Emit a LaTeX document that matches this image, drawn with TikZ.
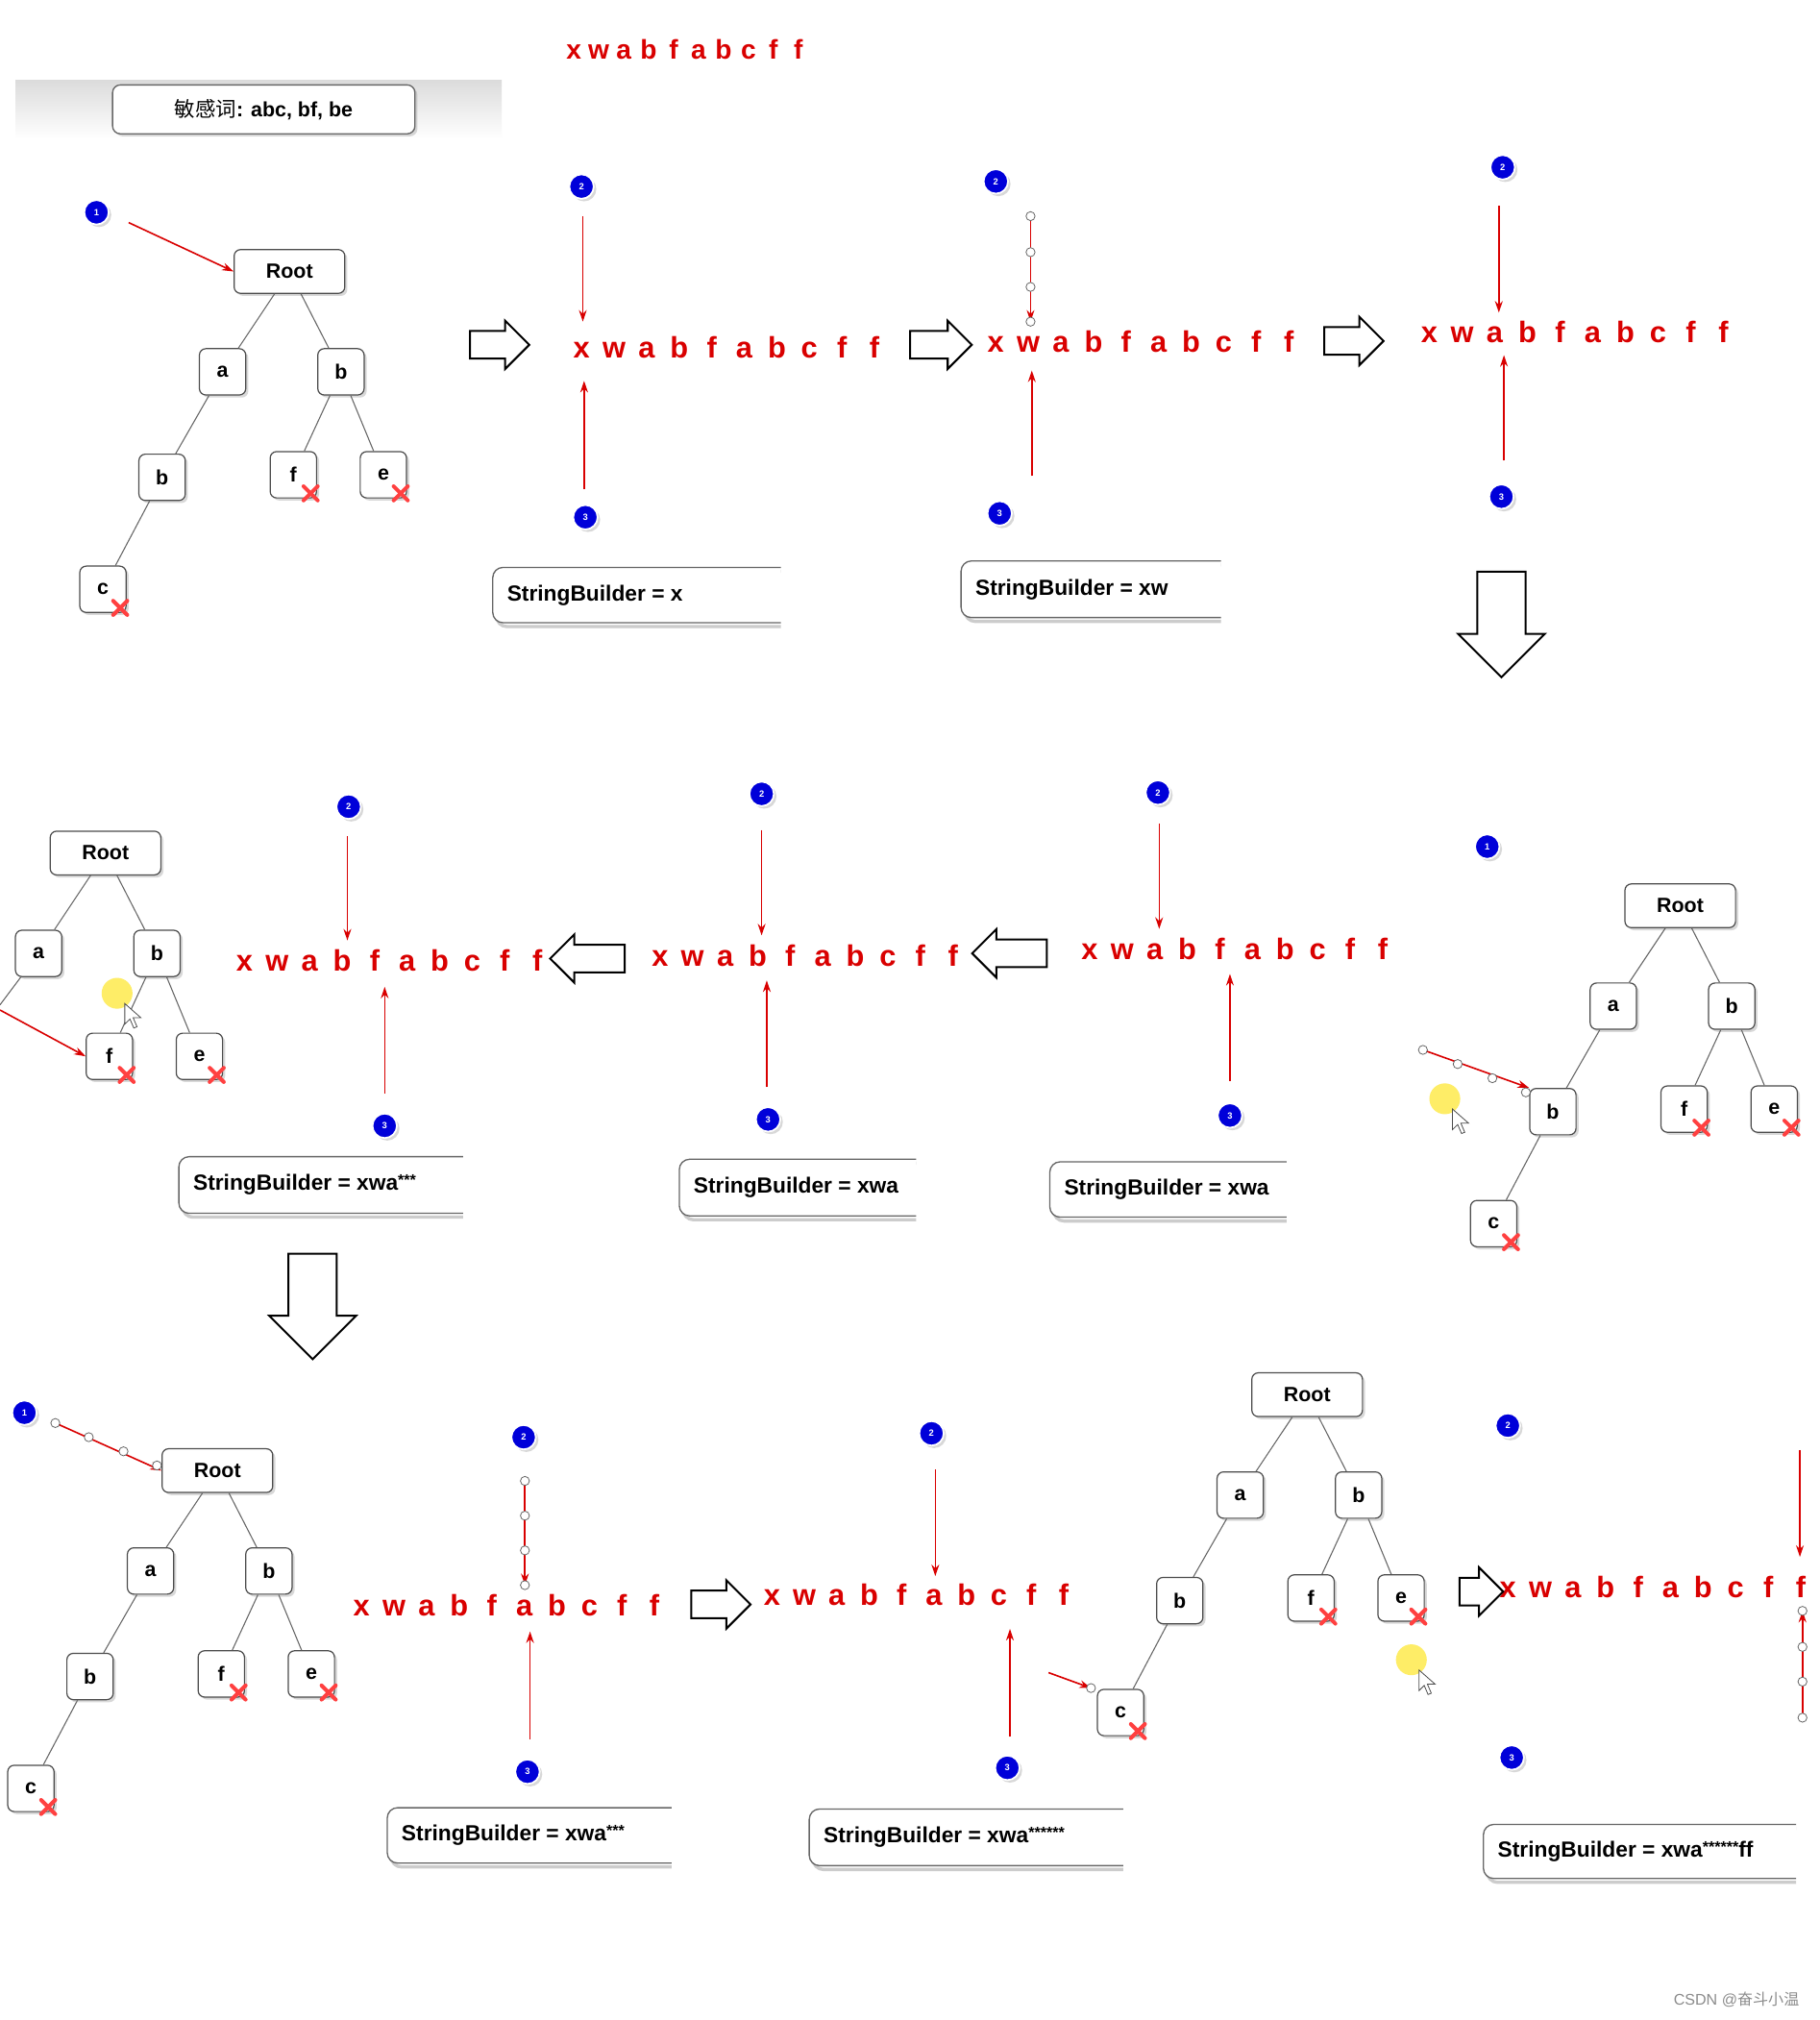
\documentclass[tikz,border=0pt]{standalone}
\usepackage{fontspec}
\setmainfont{Liberation Sans}
\newfontfamily\cjk{Noto Sans CJK SC}
\usetikzlibrary{shapes.arrows,shadows,arrows.meta}
\begin{document}
\begin{tikzpicture}[x=1pt,y=-1pt,
 shd/.style={drop shadow={shadow xshift=2pt,shadow yshift=-2pt,opacity=0.3}},
 tn/.style={draw=black!70,line width=0.9pt,rounded corners=5pt,fill=white,minimum width=36,minimum height=36,inner sep=0,font=\bfseries\fontsize{16}{16}\selectfont,shd},
 root/.style={tn,minimum width=86,minimum height=34},
 edge/.style={draw=black!60,line width=0.8pt},
 num/.style={circle,fill=blue!85!black,draw=white,line width=1.3pt,minimum size=19,inner sep=0,font=\bfseries\fontsize{7}{7}\selectfont,text=white,shd},
 ltr/.style={text=red!85!black,font=\bfseries\fontsize{23}{23}\selectfont,inner sep=0,anchor=base},
 ptr/.style={red!85!black,line width=1.2pt,-{Stealth[length=9pt,width=6pt]}},
 dotc/.style={circle,draw=black!60,fill=white,minimum size=7,inner sep=0,line width=0.6pt},
 blk/.style={single arrow,draw=black,line width=1.5pt,fill=white,inner sep=10pt,single arrow head extend=8pt,single arrow head indent=0pt,minimum height=46},
 blkd/.style={blk,inner sep=18pt,single arrow head extend=15pt,minimum height=82,shape border rotate=270},
 xm/.pic={\draw[red!75,line width=3pt,line cap=round] (-5.5,-5.5)--(5.5,5.5) (-5.5,5.5)--(5.5,-5.5);}
]
\useasboundingbox (0,0) rectangle (1414,1570);
\fill[white] (0,0) rectangle (1414,1570);

\newcommand\trie[3]{%
 \begin{scope}[shift={(#2,#3)}]
 \node[root] (#1r) at (0,0) {Root};
 \node[tn] (#1a) at (-52,78) {a};
 \node[tn] (#1b) at (40,78) {b};
 \node[tn] (#1bb) at (-99,160) {b};
 \node[tn] (#1f) at (3,158) {f};
 \node[tn] (#1e) at (73,158) {e};
 \node[tn] (#1c) at (-145,247) {c};
 \end{scope}
 \draw[edge] (#1r) -- (#1a); \draw[edge] (#1r) -- (#1b);
 \draw[edge] (#1a) -- (#1bb); \draw[edge] (#1bb) -- (#1c);
 \draw[edge] (#1b) -- (#1f); \draw[edge] (#1b) -- (#1e);
 \pic at ([shift={(-5,-4)}]#1c.south east) {xm};
 \pic at ([shift={(-5,-4)}]#1f.south east) {xm};
 \pic at ([shift={(-5,-4)}]#1e.south east) {xm};
}
\newcommand\row[4]{%
 \foreach \l [count=\i from 0] in {x,w,a,b,f,a,b,c,f,f}
  \node[ltr] (#1\i) at (#2+\i*#4,#3+8) {\l};}
\newcommand\sbld[6]{%
 \draw[black!20,line width=2.5pt,rounded corners=8pt] (#4,#3+3)--(#2+3,#3+3)--(#2+3,#5+3)--(#4,#5+3);
 \draw[black!60,line width=1pt,rounded corners=8pt,fill=white] (#4,#3)--(#2,#3)--(#2,#5)--(#4,#5);
 \node[anchor=west,font=\bfseries\fontsize{17}{17}\selectfont,inner sep=0] (#1) at (#2+11,{(#3+#5)/2}) {StringBuilder = #6};}
\newcommand\stars[1]{\raisebox{0.45ex}{\fontsize{12}{12}\selectfont #1}}
\newcommand\cursor[2]{%
 \fill[yellow!85!orange,opacity=0.6] (#1-6,#2-8) circle (12);
 \draw[black!70,fill=white,line width=0.6pt] (#1,#2) -- ++(0,16) -- ++(4,-4) -- ++(3,7) -- ++(2.5,-1) -- ++(-3,-7) -- ++(6,0) -- cycle;}

% header
\shade[top color=black!14,bottom color=white] (12,62) rectangle (390,108);
\node[draw=black!60,line width=1pt,rounded corners=6pt,fill=white,minimum width=235,minimum height=38,shd,font=\bfseries\fontsize{16}{16}\selectfont] (hdr) at (205,85) {{\cjk\mdseries 敏感词}: abc, bf, be};
\foreach \l [count=\i from 0] in {x,w,a,b,f,a,b,c,f,f}
  \node[ltr,font=\bfseries\fontsize{21}{21}\selectfont] (t\i) at (446+\i*19.4,46) {\l};

% trees
\trie{A}{225}{211}
\node[num] (n1a) at (75,165) {1};
\draw[ptr] (100,173) -- (Ar.west);
% tree B: left part cut by the picture edge
\begin{scope}[shift={(82,663)}]
 \node[root] (Br) at (0,0) {Root};
 \node[tn] (Ba) at (-52,78) {a};
 \node[tn] (Bb) at (40,78) {b};
 \node[tn] (Bf) at (3,158) {f};
 \node[tn] (Be) at (73,158) {e};
 \coordinate (Bcut) at (-82,118);
\end{scope}
\draw[edge] (Br) -- (Ba); \draw[edge] (Br) -- (Bb);
\draw[edge] (Bb) -- (Bf); \draw[edge] (Bb) -- (Be);
\draw[edge] (Ba) -- (Bcut);
\pic at ([shift={(-5,-4)}]Bf.south east) {xm};
\pic at ([shift={(-5,-4)}]Be.south east) {xm};
\coordinate (Bin) at (0,785);
\draw[ptr] (Bin) -- (Bf.west);
\cursor{97}{780}
\trie{C}{1306}{704}
\node[num] (n1c) at (1156,658) {1};
\draw[ptr] (1106,816) -- (Cbb.north west);
\foreach \p in {(1106,816),(1133,827),(1160,838),(1186,849)} \node[dotc] at \p {};
\cursor{1129}{862}
\trie{D}{169}{1143}
\node[num] (n1d) at (19,1098) {1};
\draw[ptr] (43,1106) -- (Dr.west);
\foreach \p in {(43,1106),(69,1117),(96,1128),(122,1139)} \node[dotc] at \p {};
\trie{E}{1016}{1084}
\draw[ptr] (815,1300) -- (848,1312);
\node[dotc] at (848,1312) {};
\cursor{1103}{1298}

% rows
\row{Ra}{452}{270}{25.3}
\node[num] at (452,145) {2}; \draw[ptr] (453,168) -- (453,250);
\node[num] at (455,402) {3}; \draw[ptr] (454,380) -- (454,296);
\sbld{Sa}{383}{441}{607}{484}{x}

\row{Rb}{774}{266}{25.3}
\node[num] at (774,141) {2}; \draw[ptr] (801,168) -- (801,250);
\foreach \yy in {168,196,223,250} \node[dotc] at (801,\yy) {};
\node[num] at (777,399) {3}; \draw[ptr] (802,370) -- (802,288);
\sbld{Sb}{747}{436}{949}{480}{xw}

\row{Rc}{1111}{258}{25.4}
\node[num] at (1168,130) {2}; \draw[ptr] (1165,160) -- (1165,243);
\node[num] at (1167,386) {3}; \draw[ptr] (1169,358) -- (1169,276);

\row{Rd}{847}{738}{25.3}
\node[num] at (900,616) {2}; \draw[ptr] (901,640) -- (901,722);
\node[num] at (956,867) {3}; \draw[ptr] (956,840) -- (956,757);
\sbld{Sd}{816}{903}{1000}{946}{xwa}

\row{Re}{513}{743}{25.3}
\node[num] at (592,617) {2}; \draw[ptr] (592,645) -- (592,727);
\node[num] at (597,870) {3}; \draw[ptr] (596,845) -- (596,762);
\sbld{Se}{528}{901}{712}{945}{xwa}

\row{Rf}{190}{747}{25.3}
\node[num] at (271,627) {2}; \draw[ptr] (270,650) -- (270,731);
\node[num] at (299,875) {3}; \draw[ptr] (299,850) -- (299,767);
\sbld{Sf}{139}{899}{360}{943}{xwa\stars{***}}

\row{Rg}{281}{1248}{25.3}
\node[num] at (407,1117) {2}; \draw[ptr] (408,1148) -- (408,1232);
\foreach \yy in {1151,1178,1205,1232} \node[dotc] at (408,\yy) {};
\node[num] at (410,1377) {3}; \draw[ptr] (412,1352) -- (412,1268);
\sbld{Sg}{301}{1405}{522}{1448}{xwa\stars{***}}

\row{Rh}{600}{1240}{25.2}
\node[num] at (724,1114) {2}; \draw[ptr] (727,1142) -- (727,1225);
\node[num] at (783,1374) {3}; \draw[ptr] (785,1350) -- (785,1266);
\sbld{Sh}{629}{1406}{873}{1450}{xwa\stars{******}}

\row{Ri}{1172}{1234}{25.3}
\node[num] at (1172,1108) {2}; \draw[ptr] (1399,1127) -- (1399,1210);
\node[num] at (1175,1366) {3}; \draw[ptr] (1401,1335) -- (1401,1252);
\foreach \yy in {1252,1280,1307,1335} \node[dotc] at (1401,\yy) {};
\sbld{Si}{1153}{1418}{1396}{1460}{xwa\stars{******}ff}

% block arrows
\node[blk] (ba1) at (383,268) {};
\node[blk,minimum height=48] (ba2) at (726,268) {};
\node[blk] (ba3) at (1047,265) {};
\node[blkd] (bd1) at (1167,476) {};
\node[blk,minimum height=58,shape border rotate=180] (bl1) at (790,741) {};
\node[blk,minimum height=58,shape border rotate=180] (bl2) at (462,745) {};
\node[blkd] (bd2) at (243,1006) {};
\node[blk] (ba4) at (555,1247) {};
\node[blk,minimum height=34] (ba5) at (1146,1237) {};

\node[text=black!45,font=\fontsize{12}{12}\selectfont,anchor=east] (ft) at (1402,1554) {CSDN @{\cjk 奋斗小温}};
\end{tikzpicture}
\end{document}
